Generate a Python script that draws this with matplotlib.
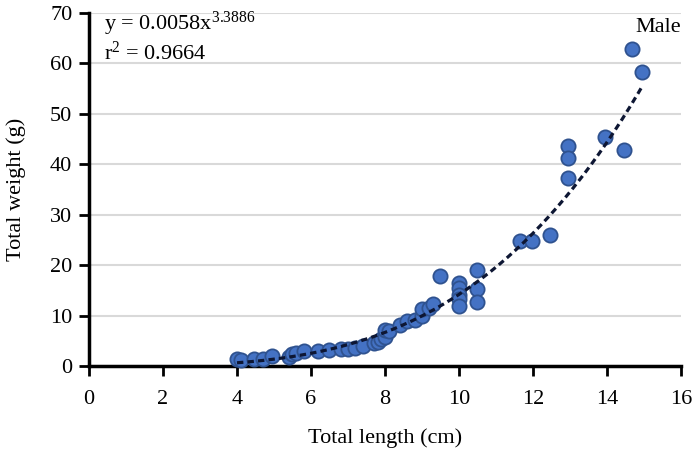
import matplotlib
matplotlib.use("Agg")
import matplotlib.pyplot as plt
import numpy as np

length_cm = [4.0, 4.1, 4.45, 4.7, 4.95, 5.4, 5.5, 5.6, 5.8, 6.2, 6.5, 6.8, 7.0, 7.2,
             7.4, 7.7, 7.8, 7.9, 8.0, 8.0, 8.1, 8.4, 8.6, 8.8, 9.0, 9.0, 9.2, 9.3,
             9.5, 10.0, 10.0, 10.0, 10.0, 10.0, 10.5, 10.5, 10.5, 11.65, 11.97, 12.45,
             12.95, 12.95, 12.95, 13.95, 14.45, 14.68, 14.95]
weight_g = [1.3, 1.2, 1.3, 1.4, 2.0, 1.8, 2.4, 2.5, 3.0, 3.0, 3.2, 3.3, 3.4, 3.6,
            4.0, 4.5, 4.8, 5.3, 5.8, 7.2, 7.0, 8.2, 9.0, 9.2, 10.0, 11.3, 11.5, 12.3,
            17.8, 16.5, 15.5, 14.0, 13.2, 11.9, 19.1, 15.3, 12.6, 24.7, 24.7, 25.9,
            43.6, 41.3, 37.3, 45.5, 42.8, 62.8, 58.2]
coef_a = 0.0058
coef_b = 3.3886
r_squared = 0.9664
x_ticks = [0, 2, 4, 6, 8, 10, 12, 14, 16]
y_ticks = [0, 10, 20, 30, 40, 50, 60, 70]

plt.rcParams['font.family'] = ['Liberation Serif', 'DejaVu Serif']
plt.rcParams['mathtext.fontset'] = 'custom'
plt.rcParams['mathtext.rm'] = 'Liberation Serif'
plt.rcParams['mathtext.it'] = 'Liberation Serif:italic'
plt.rcParams['mathtext.bf'] = 'Liberation Serif:bold'

fig = plt.figure(figsize=(6.92, 4.51), dpi=100)
ax = fig.add_axes([0.1286, 0.1885, 0.8555, 0.7827])

ax.set_xlim(0, 16)
ax.set_ylim(0, 70)
ax.set_xticks(x_ticks)
ax.set_yticks(y_ticks)
ax.yaxis.grid(True, color='#D9D9D9', linewidth=1.5, zorder=0)
ax.set_axisbelow(True)

for s in ['top', 'right']:
    ax.spines[s].set_visible(False)
for s in ['left', 'bottom']:
    ax.spines[s].set_linewidth(2.5)
    ax.spines[s].set_color('black')
ax.tick_params(direction='out', length=7, width=2, labelsize=16, color='black')
ax.tick_params(axis='y', pad=5)
ax.tick_params(axis='x', pad=10)

ax.scatter(length_cm, weight_g, s=105, facecolor='#4472C4', edgecolor='#2F528F',
           linewidth=1.3, zorder=3, clip_on=False)

xf = np.linspace(min(length_cm), max(length_cm), 200)
ax.plot(xf, coef_a * xf ** coef_b, color='#0D1633', linestyle=(0, (2.0, 1.3)),
        linewidth=2.3, zorder=4)

ax.set_xlabel('Total length (cm)', fontsize=16, labelpad=14)
ax.set_ylabel('Total weight (g)', fontsize=16, labelpad=17)

ax.text(0.025, 1.01, r'y = 0.0058x$^{\mathrm{3.3886}}$', transform=ax.transAxes,
        fontsize=16, va='top', ha='left')
ax.text(0.025, 0.92, r'r$^{\mathrm{2}}$ = 0.9664', transform=ax.transAxes,
        fontsize=16, va='top', ha='left')
ax.text(1.0, 0.985, 'Male', transform=ax.transAxes, fontsize=16,
        va='top', ha='right')

fig.savefig('out.png', dpi=100)
